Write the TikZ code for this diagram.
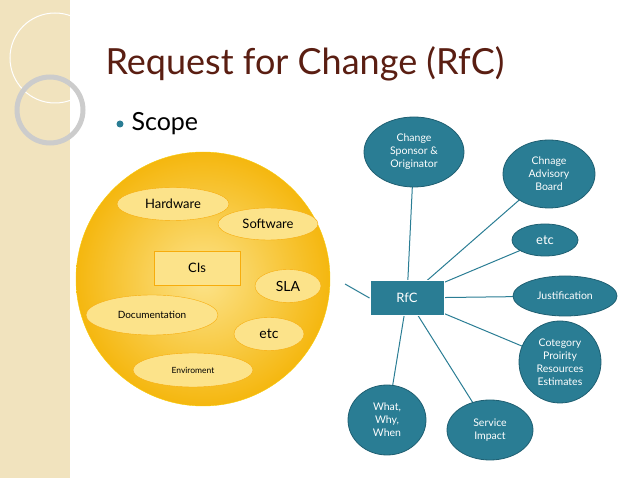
\documentclass[tikz,border=0pt]{standalone}
\usepackage{fontspec}
\setmainfont{Lato}
\usetikzlibrary{shapes.geometric,backgrounds}
\definecolor{teal1}{HTML}{2A7D94}
\definecolor{tealb}{HTML}{1F5F72}
\definecolor{gold}{HTML}{F5B70F}
\definecolor{pale}{HTML}{FCE38A}
\definecolor{strip}{HTML}{F1E3BE}
\definecolor{ttl}{HTML}{5A1E12}
\tikzset{
 bub/.style={ellipse,draw=tealb,line width=0.8pt,fill=teal1,text=white,font=\fontsize{10.5}{13}\selectfont,align=center,inner sep=0pt},
 yel/.style={ellipse,draw=gold!80!orange,fill=pale,inner sep=0pt,font=\fontsize{13}{15}\selectfont},
 con/.style={draw=teal1,line width=1pt}
}
\begin{document}
\begin{tikzpicture}[x=1pt,y=-1pt]
\useasboundingbox (0,0) rectangle (638,478);
\fill[strip] (0,0) rectangle (70,478);
\draw[white,line width=1pt] (55,58) circle (45);
\draw[black!20,line width=5pt] (50,110) circle (33);
\node[anchor=west,text=ttl,font=\fontsize{36}{40}\selectfont] (title) at (102,64) {Request for Change (RfC)};
\fill[teal1] (120,124) circle (3.5);
\node[anchor=west,font=\fontsize{25}{28}\selectfont] (scope) at (128,124) {Scope};
\shade[inner color=pale,outer color=gold,draw=gold!70!yellow] (203,279) circle (127);
\node[yel,minimum width=112,minimum height=33] (hw) at (173,204) {Hardware};
\node[yel,minimum width=100,minimum height=32] (sw) at (268,224) {Software};
\node[draw=gold!80!orange,fill=pale,minimum width=86,minimum height=34,font=\fontsize{13}{15}\selectfont] (ci) at (197,268) {CIs};
\node[yel,minimum width=66,minimum height=33,font=\fontsize{14}{16}\selectfont] (sla) at (288,286) {SLA};
\node[yel,minimum width=132,minimum height=40,font=\fontsize{10}{12}\selectfont] (doc) at (152,315) {Documentation};
\node[yel,minimum width=70,minimum height=33,font=\fontsize{14}{16}\selectfont] (etc1) at (269,334) {etc};
\node[yel,minimum width=120,minimum height=34,font=\fontsize{8.5}{10}\selectfont] (env) at (193,370) {Enviroment};
\coordinate (ce) at (345,284);
\node[draw=white,line width=1pt,fill=teal1,text=white,minimum width=74,minimum height=35,font=\fontsize{13}{15}\selectfont] (rfc) at (407,298) {RfC};
\node[bub,minimum width=100,minimum height=70] (cs) at (414,152) {Change\\Sponsor \&\\Originator};
\node[bub,minimum width=92,minimum height=68] (cab) at (549,174) {Chnage\\Advisory\\Board};
\node[bub,minimum width=66,minimum height=32,font=\fontsize{13}{15}\selectfont] (etc2) at (545,240) {etc};
\node[bub,minimum width=104,minimum height=40] (jus) at (565,296) {Justification};
\node[bub,minimum width=82,minimum height=82] (cat) at (560,362) {Cotegory\\Proirity\\Resources\\Estimates};
\node[bub,minimum width=86,minimum height=60] (si) at (490,430) {Service\\Impact};
\node[bub,minimum width=78,minimum height=70] (www) at (387,420) {What,\\Why,\\When};
\begin{pgfonlayer}{background}
\draw[con] (rfc.west) -- (ce);
\foreach \t in {cs,cab,etc2,jus,cat,si,www} \draw[con] (rfc.center) -- (\t.center);
\end{pgfonlayer}
\end{tikzpicture}
\end{document}
